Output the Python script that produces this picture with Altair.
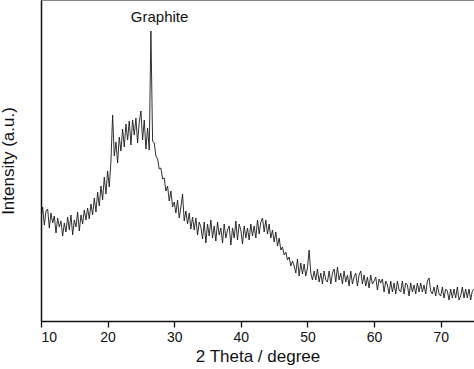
import altair as alt
import pandas as pd

two_theta_start = 10.0
two_theta_step = 0.25

intensity = [
    102, 114, 96, 110,   # 10
    112, 93, 108, 98,    # 11
    105, 88, 103, 94,    # 12
    100, 85, 98, 89,     # 13
    104, 91, 106, 86,    # 14
    101, 94, 109, 90,    # 15
    106, 97, 111, 101,   # 16
    113, 102, 117, 106,  # 17
    123, 109, 129, 115,  # 18
    135, 121, 144, 127,  # 19
    150, 134, 160, 206,  # 20
    165, 179, 158, 184,  # 21
    170, 192, 174, 197,  # 22
    181, 200, 176, 201,  # 23
    186, 203, 178, 199,  # 24
    210, 181, 201, 172,  # 25
    193, 171, 290, 180,  # 26
    178, 165, 162, 152,  # 27
    153, 142, 143, 130,  # 28
    135, 120, 130, 114,  # 29
    119, 108, 121, 103,  # 30
    114, 127, 100, 110,  # 31
    97, 108, 92, 104,    # 32
    91, 103, 86, 99,     # 33
    94, 82, 99, 78,      # 34
    97, 85, 101, 83,     # 35
    95, 80, 99, 86,      # 36
    93, 78, 97, 83,      # 37
    91, 95, 76, 93,      # 38
    83, 100, 81, 97,     # 39
    91, 77, 95, 83,      # 40
    93, 81, 97, 85,      # 41
    95, 83, 101, 87,     # 42
    99, 103, 89, 101,    # 43
    87, 97, 83, 91,      # 44
    79, 89, 75, 83,      # 45
    71, 74, 66, 69,      # 46
    61, 64, 55, 60,      # 47
    55, 48, 62, 45,      # 48
    58, 47, 57, 45,      # 49
    53, 71, 48, 41,      # 50
    50, 41, 52, 39,      # 51
    48, 37, 50, 41,      # 52
    39, 50, 37, 48,      # 53
    52, 39, 54, 41,      # 54
    48, 37, 50, 39,      # 55
    46, 35, 50, 37,      # 56
    44, 48, 35, 46,      # 57
    50, 37, 46, 35,      # 58
    44, 33, 46, 37,      # 59
    40, 44, 31, 42,      # 60
    38, 42, 29, 40,      # 61
    36, 27, 40, 29,      # 62
    38, 27, 40, 31,      # 63
    29, 40, 27, 38,      # 64
    36, 25, 38, 29,      # 65
    36, 27, 38, 29,      # 66
    38, 29, 36, 27,      # 67
    40, 43, 30, 27,      # 68
    34, 25, 36, 27,      # 69
    25, 34, 23, 32,      # 70
    30, 21, 32, 23,      # 71
    32, 23, 34, 21,      # 72
    25, 34, 23, 32,      # 73
    23, 32, 21, 30,      # 74
    32,                  # 75
]
two_theta = [two_theta_start + two_theta_step * i for i in range(len(intensity))]

tick_values = [10, 15, 20, 25, 30, 35, 40, 45, 50, 55, 60, 65, 70, 75]

annot_text = ["Graphite"]
annot_x = [27.8]
annot_y = [304]

df = pd.DataFrame({"x": two_theta, "y": intensity})
ann = pd.DataFrame({"x": annot_x, "y": annot_y, "t": annot_text})

FONT = "Liberation Sans"

xscale = alt.Scale(domain=[10, 75], nice=False, zero=False)
yscale = alt.Scale(domain=[0, 321], nice=False, zero=False)

line = alt.Chart(df).mark_line(color="#1a1a1a", strokeWidth=0.9, clip=True).encode(
    x=alt.X("x:Q", scale=xscale, axis=alt.Axis(
        title="2 Theta / degree",
        values=tick_values,
        labelExpr="datum.value % 10 === 0 && datum.value < 75 ? datum.label : ''",
        tickSize={"condition": {"test": "datum.value % 10 === 0", "value": 6}, "value": 3},
        tickColor="#111", domainColor="#111", domainWidth=1.5, tickWidth=1.3,
        labelFontSize=14, labelColor="#111", labelFont=FONT, labelPadding=3,
        titleFontSize=17, titleFont=FONT, titleFontWeight="normal", titleColor="#111",
        titlePadding=4, grid=False,
    )),
    y=alt.Y("y:Q", scale=yscale, axis=alt.Axis(
        title="Intensity (a.u.)", labels=False, ticks=False,
        domainColor="#111", domainWidth=1.5, grid=False,
        titleFontSize=17, titleFont=FONT, titleFontWeight="normal", titleColor="#111",
        titlePadding=24,
    )),
)

text = alt.Chart(ann).mark_text(fontSize=15, font=FONT, color="#111").encode(
    x=alt.X("x:Q", scale=xscale), y=alt.Y("y:Q", scale=yscale), text="t:N"
)

chart = (line + text).properties(
    width=433, height=321,
    padding={"left": 41, "top": 0, "right": 0, "bottom": 48},
    autosize=alt.AutoSizeParams(type="none"),
).configure_view(stroke="#888", strokeWidth=1)

chart.save("out.html", embed_options={"renderer": "svg", "actions": False})
